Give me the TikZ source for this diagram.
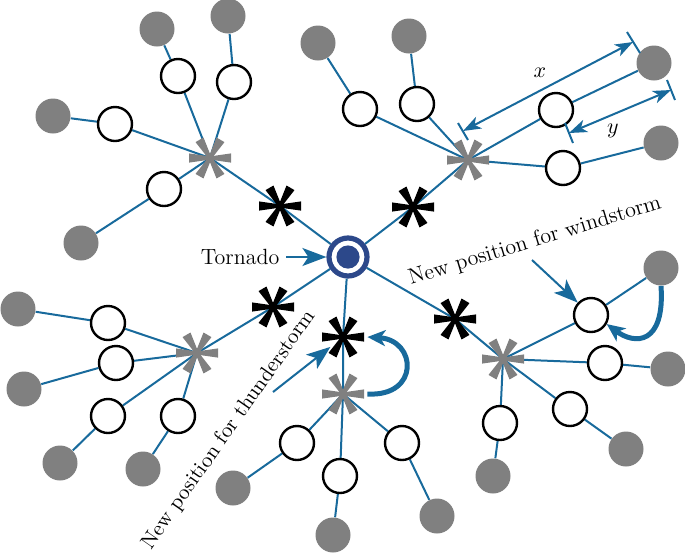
\documentclass[tikz,border=0pt]{standalone}
\usepackage{tikz}
\usetikzlibrary{arrows.meta,positioning,calc,backgrounds}
\definecolor{link}{RGB}{24,106,156}
\definecolor{twister}{RGB}{44,72,138}
\colorlet{hubgray}{black!50}
\tikzset{>/.tip={Stealth[length=9pt,width=6.5pt,inset=2.5pt]}}
\tikzset{
  wn/.style={circle,draw,line width=1.2pt,fill=white,minimum size=17pt,inner sep=0pt},
  gn/.style={circle,fill=hubgray,minimum size=17.5pt,inner sep=0pt},
  hub/.style={circle,minimum size=24pt,inner sep=0pt},
  tor/.style={circle,draw=twister,line width=2.6pt,fill=white,minimum size=19pt,inner sep=0pt,
    path picture={\fill[twister] (path picture bounding box.center) circle (5.8pt);}},
  ln/.style={link,line width=1pt},
  bigarrow/.style={-{Stealth[length=12pt,width=9pt,inset=3pt]}},
  movearrow/.style={link,line width=2.5pt,-{Stealth[length=9pt,width=8pt,inset=2.5pt]}},
}
\begin{document}
\begin{tikzpicture}[x=0.5pt,y=-0.5pt,font=\fontsize{11}{13}\selectfont]
  \useasboundingbox (0,0) rectangle (685,553);
  \node (tor)[tor] at (348,257) {};
  \node (tlab)[left=20pt of tor] {Tornado};
  \foreach \n/\x/\y in {A/210/158,B/468/160,C/197/353,D/343/394,E/503/359,
      kA/280/206,kB/413/207,kC/273/307,kD/343/337,kE/455/319}
    \node (\n)[hub] at (\x,\y) {};
  \foreach \n/\x/\y in {a1/178/76,a2/234/82,a3/115/124,a4/164/189,
      b1/360/109,b2/417/104,b3/556/110,b4/563/168,
      c1/108/323,c2/116/363,c3/108/416,c4/178/416,
      d1/297/443,d2/340/476,d3/402/443,
      e1/591/315,e2/605/363,e3/570/409,e4/500/423}
    \node (\n)[wn] at (\x,\y) {};
  \foreach \n/\x/\y in {ga1/157/29,ga2/228/16,ga3/53/116,ga4/81/243,
      gb1/318/43,gb2/409/36,gb3/654/63,gb4/661/143,
      gc1/18/309,gc2/24/389,gc3/60/463,gc4/143/469,
      gd1/233/488,gd2/333/535,gd3/437/516,
      ge1/661/268,ge2/668/369,ge3/626/449,ge4/493/476}
    \node (\n)[gn] at (\x,\y) {};
  \begin{scope}[on background layer]
    \foreach \k/\h in {kA/A,kB/B,kC/C,kD/D,kE/E}
      \draw[ln] (tor) -- (\k.center) -- (\h.center);
    \foreach \h/\w/\g in {A/a1/ga1,A/a2/ga2,A/a3/ga3,A/a4/ga4,
        B/b1/gb1,B/b2/gb2,B/b3/gb3,B/b4/gb4,
        C/c1/gc1,C/c2/gc2,C/c3/gc3,C/c4/gc4,
        D/d1/gd1,D/d2/gd2,D/d3/gd3,
        E/e1/ge1,E/e2/ge2,E/e3/ge3,E/e4/ge4}
      \draw[ln] (\h.center) -- (\w) -- (\g);
  \end{scope}
  % asterisks
  \foreach \n/\c in {A/hubgray,B/hubgray,C/hubgray,D/hubgray,E/hubgray,
      kA/black,kB/black,kC/black,kD/black,kE/black}
    \foreach \a in {0,60,...,300}
      \fill[\c,shift={(\n.center)},rotate=\a]
        (0pt,-0.8pt) -- (10.5pt,-2.3pt) -- (10.5pt,2.3pt) -- (0pt,0.8pt) -- cycle;
  \draw[ln,bigarrow] (tlab) -- (tor);
  % distances x and y
  \coordinate (xa) at (463,131);
  \coordinate (xb) at (633,42);
  \coordinate (ya) at (569,133);
  \coordinate (yb) at (671,90);
  \draw[ln,<->] (xa) -- (xb);
  \draw[ln,<->] (ya) -- (yb);
  \draw[ln] ($(xa)+(-5,-8)$) -- ($(xa)+(5,9)$);
  \draw[ln] ($(xb)+(-6,-10)$) -- ($(xb)+(7,11)$);
  \draw[ln] ($(ya)+(-4,-10)$) -- ($(ya)+(4,10)$);
  \draw[ln] ($(yb)+(-4,-10)$) -- ($(yb)+(4,10)$);
  \node (xl) at (540,73) {$x$};
  \node (yl) at (613,131) {$y$};
  % moves
  \node (wind)[rotate=17] at (535,241) {New position for windstorm};
  \node (thunder)[rotate=55,font=\fontsize{10.6}{13}\selectfont] at (229,430) {New position for thunderstorm};
  \coordinate (wtail) at (532,260);
  \coordinate (ttail) at (273,392);
  \draw[ln,bigarrow] (wtail) -- (e1);
  \draw[ln,bigarrow,shorten >=8pt] (ttail) -- (kD.center);
  \draw[movearrow] (D.east) .. controls (420,397) and (417,340) .. (kD.east);
  \draw[movearrow] (ge1.south) .. controls (665,345) and (635,345) .. (e1.-30);
\end{tikzpicture}
\end{document}
